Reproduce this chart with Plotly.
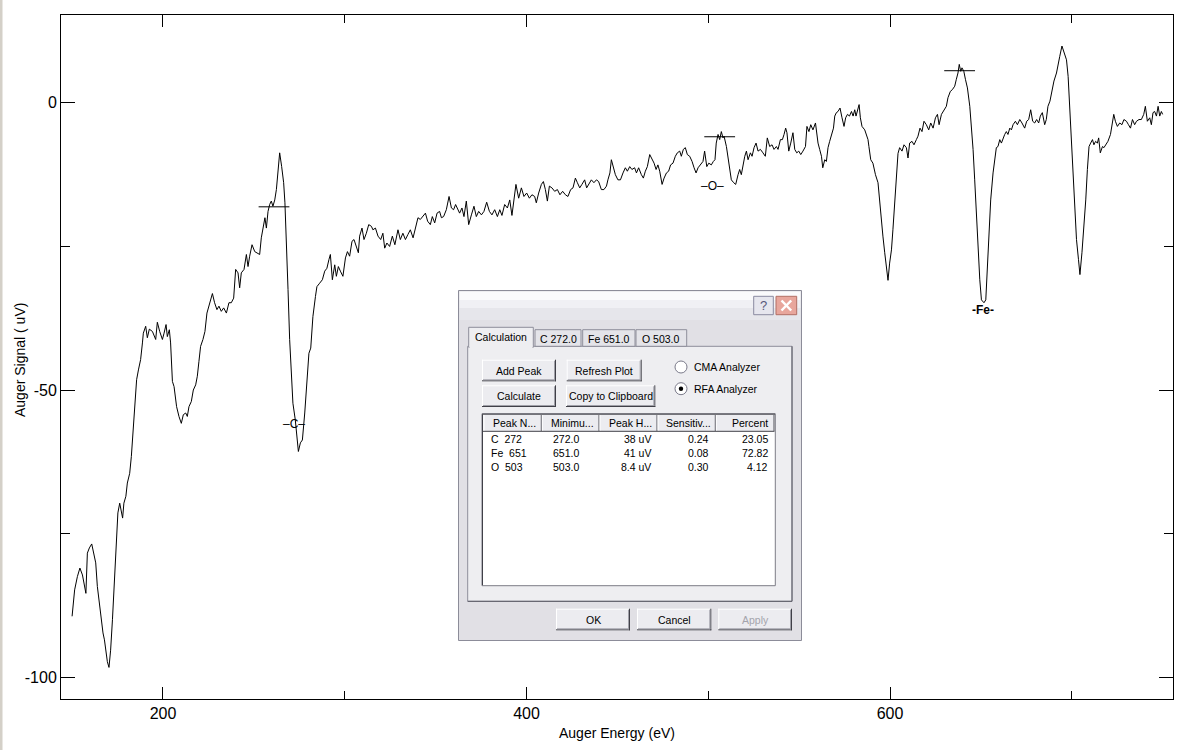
import plotly.graph_objects as go

# ---------------- data ----------------
energy = [
150.0,151.4,152.9,154.3,155.7,156.9,157.6,158.4,159.5,160.8,162.0,163.0,163.9,165.2,166.3,167.0,167.8,168.6,169.4,170.3,
171.2,172.2,173.0,173.6,174.4,175.2,176.2,177.1,177.8,178.5,179.6,180.4,181.7,182.6,183.2,184.0,184.8,185.5,186.5,187.7,
188.7,189.2,190.5,191.4,192.5,194.2,196.0,196.9,198.2,199.7,200.6,201.7,202.4,203.5,204.2,205.2,206.1,207.5,208.8,210.1,
211.2,212.5,213.4,214.3,215.6,216.7,218.0,218.9,219.8,220.7,222.0,223.1,
224.2,225.7,227.2,228.4,229.7,230.8,232.1,233.4,234.9,236.3,237.6,238.9,240.0,241.3,242.2,243.1,244.6,245.9,246.8,247.7,
249.0,250.5,251.7,253.2,254.1,255.0,256.1,256.9,257.8,258.7,259.6,260.5,261.5,262.4,263.1,264.2,265.3,266.4,267.1,267.9,
268.8,269.7,270.6,271.5,272.8,273.7,274.5,275.6,276.7,278.0,279.2,280.3,281.3,282.5,283.9,284.7,286.2,287.7,289.0,290.2,
291.3,292.1,293.2,294.5,295.4,296.5,297.6,299.0,300.4,301.5,302.7,304.0,305.1,306.4,307.5,308.2,309.5,310.6,311.9,313.2,
314.7,315.5,316.9,318.3,319.8,321.0,322.0,323.2,324.7,326.2,327.6,329.3,330.6,332.0,333.4,334.8,336.1,337.6,339.0,340.3,
341.6,343.1,344.4,345.6,347.1,348.2,349.5,350.8,352.2,353.2,354.4,355.9,357.4,358.7,359.9,361.0,362.3,
363.2,364.5,365.6,366.9,368.2,369.7,371.1,372.4,373.7,375.2,376.6,378.1,379.6,381.0,382.5,384.0,385.3,386.5,388.0,389.5,
390.8,392.0,393.1,394.2,395.7,397.2,398.6,400.1,401.6,403.0,404.5,405.4,406.7,408.2,409.3,410.4,411.5,412.6,414.0,415.5,
417.0,418.4,419.9,421.4,422.8,424.3,425.6,426.9,428.0,429.3,430.5,432.0,433.1,434.4,435.7,437.1,438.5,439.7,441.2,442.6,
444.0,444.8,445.9,446.7,447.8,448.9,450.3,451.7,453.1,454.4,455.5,456.8,458.0,459.5,460.5,461.7,463.2,464.3,465.4,466.5,
467.8,469.1,470.2,471.3,472.3,473.3,474.6,475.7,477.0,478.2,479.3,480.6,481.9,483.0,484.3,485.2,486.3,487.4,488.5,489.8,
491.1,492.2,493.3,494.4,495.8,497.1,498.0,499.2,500.3,501.7,502.8,503.7,504.4,505.4,506.3,507.2,508.1,
508.7,510.0,510.9,511.8,512.7,514.0,515.1,516.4,517.3,518.2,519.1,520.1,521.0,521.9,523.2,524.1,525.2,526.3,527.4,528.7,
530.1,531.4,532.5,533.8,535.1,536.2,537.5,538.4,539.7,540.8,541.7,542.6,543.3,544.3,545.4,546.6,547.6,548.7,549.8,550.9,
552.1,553.5,554.3,555.4,556.4,557.6,559.0,559.7,560.4,561.3,562.3,563.0,564.1,565.0,565.9,566.8,567.8,568.9,569.6,570.5,
571.4,572.5,573.6,574.7,575.6,576.6,577.7,578.8,579.7,580.6,581.3,582.1,583.0,583.7,584.6,586.1,587.0,587.9,588.4,589.4,
590.6,592.0,593.4,594.3,595.3,596.1,597.1,598.0,598.9,599.8,600.8,601.6,602.6,603.5,604.4,605.3,606.6,607.7,609.0,609.9,
610.8,612.1,613.2,614.5,615.4,616.5,617.6,618.7,620.0,621.3,622.4,623.7,625.0,626.1,627.0,628.3,629.7,631.0,631.9,633.2,
634.3,635.6,636.5,637.4,638.1,638.9,639.6,640.6,641.5,642.6,643.9,644.8,645.7,646.6,647.5,648.4,649.4,650.3,651.7,652.7,
653.6,654.5,655.4,656.7,657.6,658.5,659.4,660.4,661.3,662.2,663.1,664.0,664.9,665.9,666.8,667.7,669.0,670.1,671.4,672.6,
674.1,675.2,676.3,677.4,678.5,679.6,680.7,681.8,682.7,683.8,685.1,686.0,686.9,688.0,689.1,690.2,691.6,692.4,693.4,694.6,
695.6,697.1,698.0,698.9,699.8,700.7,701.6,702.6,703.7,704.5,705.6,706.7,707.7,708.6,709.5,710.4,711.4,712.2,713.1,714.1,
714.8,715.7,716.9,717.7,719.0,719.9,721.3,722.4,723.1,724.0,725.1,726.4,727.6,728.7,730.1,731.2,732.3,733.4,734.6,735.6,
737.0,738.3,739.6,740.5,741.6,742.9,743.8,744.7,745.6,746.6,747.5,748.4,749.3,750.0,
]
signal = [
-89.4,-84.8,-82.5,-81.0,-82.2,-83.9,-85.4,-78.4,-77.5,-76.8,-79.0,-80.1,-84.2,-87.7,-90.0,-92.3,-93.5,-95.3,-97.3,-98.3,
-95.3,-90.0,-85.4,-80.7,-75.5,-71.4,-69.7,-70.9,-72.3,-69.7,-68.5,-66.2,-64.5,-61.6,-58.7,-56.3,-51.7,-48.2,-46.5,-44.7,
-41.8,-40.1,-38.9,-40.9,-39.4,-39.8,-41.2,-38.2,-39.8,-41.2,-40.1,-38.6,-40.7,-39.5,-41.8,-48.5,-49.4,-52.9,-54.6,-55.8,
-54.3,-54.0,-54.6,-52.9,-52.0,-50.0,-49.1,-47.6,-45.0,-42.4,-41.2,-39.8,
-36.6,-35.1,-33.2,-34.8,-36.0,-35.4,-36.3,-35.7,-36.6,-34.8,-34.8,-34.0,-29.0,-29.6,-32.2,-29.6,-29.0,-26.4,-28.5,-26.7,
-24.7,-25.9,-26.1,-26.4,-23.5,-22.1,-20.0,-21.8,-18.9,-17.7,-17.1,-18.0,-16.9,-15.1,-12.2,-8.7,-11.1,-13.9,-17.4,-26.1,
-32.5,-41.2,-48.2,-52.3,-55.2,-58.7,-60.7,-59.2,-58.7,-54.0,-48.2,-43.6,-42.7,-37.2,-33.7,-32.0,-31.4,-30.8,-29.3,-28.8,
-27.3,-26.4,-30.8,-28.2,-30.2,-28.5,-29.3,-30.2,-27.0,-25.9,-26.7,-24.1,-23.8,-25.0,-26.1,-23.2,-21.8,-23.8,-22.7,-21.2,
-21.5,-22.1,-21.8,-23.2,-23.8,-22.7,-25.3,-24.4,-25.0,-23.2,-24.7,-22.1,-23.8,-22.7,-23.8,-22.9,-22.1,-23.5,-21.5,-20.0,
-20.3,-19.8,-19.2,-20.6,-21.2,-19.8,-20.9,-19.2,-18.9,-20.0,-19.8,-18.6,-16.3,-18.3,-18.6,-17.7,-18.6,
-19.2,-18.3,-19.8,-17.1,-21.2,-19.5,-18.0,-19.8,-18.9,-19.5,-18.9,-17.3,-18.9,-19.5,-18.6,-19.8,-18.6,-19.6,-17.7,-18.3,
-16.9,-19.6,-16.3,-14.2,-16.6,-14.8,-16.3,-15.7,-16.6,-16.0,-16.3,-17.4,-15.7,-14.2,-13.7,-15.1,-17.1,-14.5,-14.8,-15.4,
-15.1,-16.0,-15.4,-16.0,-16.3,-15.1,-14.8,-13.1,-13.9,-14.8,-14.2,-13.4,-14.8,-14.2,-13.4,-13.9,-13.4,-13.7,-15.1,-15.1,
-14.5,-13.4,-12.2,-9.9,-11.3,-12.5,-13.4,-13.4,-12.2,-11.3,-11.9,-11.1,-11.6,-11.3,-12.2,-11.3,-12.5,-13.1,-11.9,-11.1,
-9.0,-9.9,-10.5,-11.6,-10.8,-11.9,-14.2,-13.1,-12.2,-11.9,-10.8,-10.5,-9.3,-8.7,-8.4,-9.3,-8.1,-7.8,-9.0,-9.3,
-10.2,-11.3,-12.2,-11.3,-10.8,-10.2,-8.4,-11.1,-10.5,-10.8,-10.2,-9.9,-7.0,-5.5,-6.4,-5.0,-6.1,
-5.8,-7.6,-9.3,-11.6,-13.4,-13.9,-14.2,-12.5,-11.6,-12.5,-10.8,-9.3,-8.4,-9.9,-8.7,-9.3,-7.8,-7.0,-8.4,-8.1,
-8.7,-9.3,-6.1,-7.6,-7.3,-8.1,-7.6,-8.1,-6.4,-6.4,-5.5,-4.4,-5.2,-8.4,-7.0,-5.2,-8.1,-8.7,-8.4,-9.0,
-8.4,-7.6,-4.1,-5.0,-3.8,-4.7,-3.5,-5.2,-7.0,-8.1,-9.3,-11.3,-9.9,-10.2,-7.8,-6.7,-5.5,-4.4,-2.3,-1.7,
-1.5,-0.9,-2.6,-4.1,-2.6,-2.0,-2.3,-1.5,-2.3,-1.2,-2.3,-1.5,-0.3,-2.6,-4.1,-4.7,-5.5,-6.4,-7.6,-9.9,
-10.5,-12.5,-13.9,-17.4,-20.9,-23.2,-26.1,-28.5,-30.9,-27.9,-25.6,-22.1,-17.4,-12.2,-8.8,-7.8,-8.4,-7.3,-7.8,-9.6,
-7.0,-6.7,-7.3,-6.4,-5.8,-4.4,-5.0,-3.2,-3.8,-4.7,-3.5,-4.4,-2.6,-2.0,-3.8,-2.0,-1.2,-0.6,0.9,2.0,
2.3,2.9,4.1,5.2,6.7,5.5,6.1,5.5,4.1,2.6,-0.6,-4.1,-8.1,-13.4,-19.2,-25.0,-30.8,-34.3,-34.8,-34.3,
-29.0,-22.7,-16.9,-12.2,-9.6,-7.8,-7.6,-6.4,-7.0,-6.1,-5.5,-5.0,-5.5,-4.4,-4.7,-3.8,-3.2,-3.8,-2.9,-3.5,
-4.4,-3.2,-2.9,-1.2,-3.2,-3.5,-2.9,-3.5,-2.3,-1.7,-3.8,-2.9,-0.6,0.3,2.3,3.8,5.2,6.7,8.1,9.9,
9.0,7.5,4.6,-0.6,-6.4,-12.2,-18.0,-23.8,-27.3,-29.9,-26.1,-21.5,-16.9,-11.6,-7.6,-7.0,-6.4,-7.3,-6.7,-7.0,
-6.1,-8.7,-7.6,-7.8,-7.0,-6.7,-5.5,-3.5,-2.0,-3.2,-4.1,-3.5,-3.8,-2.9,-3.2,-3.8,-4.4,-2.9,-3.8,-3.2,
-2.9,-2.9,-2.0,-0.6,-3.2,-2.6,-3.8,-1.7,-1.5,-2.3,-0.6,-2.3,-1.5,-2.0,
]

peak_labels = ["\u2013C\u2013", "\u2013O\u2013", "<b>-Fe-</b>"]
peak_label_energy = [271.9, 502.6, 651.0]
peak_label_signal = [-56.0, -14.5, -36.0]
peak_max_energy = [261.1, 506.3, 638.3]
peak_max_signal = [-18.1, -5.9, 5.6]

x_tickvals = [200, 400, 600]
x_ticktext = ["200", "400", "600"]
y_tickvals = [0, -50, -100]
y_ticktext = ["0", "-50", "-100"]
x_title = "Auger Energy (eV)"
y_title = "Auger Signal ( uV)"

tab_labels = ["Calculation", "C 272.0", "Fe 651.0", "O 503.0"]
table_headers = ["Peak N...", "Minimu...", "Peak H...", "Sensitiv...", "Percent"]
table_peak = ["C  272", "Fe  651", "O  503"]
table_min = ["272.0", "651.0", "503.0"]
table_height = ["38 uV", "41 uV", "8.4 uV"]
table_sens = ["0.24", "0.08", "0.30"]
table_pct = ["23.05", "72.82", "4.12"]

# ---------------- layout helpers ----------------
W, H = 1188, 750
L, R, T, B = 61, 1173, 15, 699
FONT = "Liberation Sans, Arial, sans-serif"


def px(x):
    return (x - L) / (R - L)


def py(y):
    return (B - y) / (B - T)


shapes = []
annotations = []


def rect(x0, y0, x1, y1, fill, line=None, lw=1):
    shapes.append(dict(type="rect", xref="paper", yref="paper", x0=px(x0), x1=px(x1),
                       y0=py(y1), y1=py(y0), fillcolor=fill, layer="above",
                       line=dict(color=line if line else fill, width=lw if line else 0)))


def seg(x0, y0, x1, y1, color, lw=1):
    shapes.append(dict(type="line", xref="paper", yref="paper", x0=px(x0), x1=px(x1),
                       y0=py(y0), y1=py(y1), layer="above", line=dict(color=color, width=lw)))


def circ(cx, cy, r, fill, line=None):
    shapes.append(dict(type="circle", xref="paper", yref="paper", x0=px(cx - r), x1=px(cx + r),
                       y0=py(cy + r), y1=py(cy - r), fillcolor=fill, layer="above",
                       line=dict(color=line if line else fill, width=1 if line else 0)))


def text(x, y, s, anchor="left", size=10.5, color="black", family=FONT, angle=0):
    annotations.append(dict(xref="paper", yref="paper", x=px(x), y=py(y), text=s, showarrow=False,
                            xanchor=anchor, yanchor="middle", textangle=angle,
                            font=dict(family=family, size=size, color=color)))


def button(x0, y0, x1, y1, label, color="black"):
    rect(x0, y0, x1, y1, "#ececf0")
    seg(x0, y0 + 0.5, x1, y0 + 0.5, "#ffffff")
    seg(x0 + 0.5, y0, x0 + 0.5, y1, "#ffffff")
    seg(x0, y1 - 0.5, x1, y1 - 0.5, "#404048")
    seg(x1 - 0.5, y0, x1 - 0.5, y1, "#404048")
    seg(x0 + 1, y1 - 1.5, x1 - 1, y1 - 1.5, "#a0a0a8")
    seg(x1 - 1.5, y0 + 1, x1 - 1.5, y1 - 1, "#a0a0a8")
    text((x0 + x1) / 2, (y0 + y1) / 2, label, anchor="center", color=color)


# left grey window strip
rect(-1, -1, 2.5, 751, "#d4d0c8")

# ---------------- dialog ----------------
rect(458.5, 290.5, 801.5, 640.5, "#e1e0e5", "#8c8c99")
rect(459.5, 291.5, 800.5, 300, "#fafafc")
rect(459.5, 300, 800.5, 308, "#f0f0f4")
rect(459.5, 308, 800.5, 320, "#e6e6eb")
# help and close buttons
rect(753.7, 296.3, 773.3, 314.7, "#e6e6ee", "#8a8aa0")
text(763.5, 305.5, "?", anchor="center", size=13, color="#58587a")
rect(776, 296.3, 796.7, 314.7, "#e8a69c", "#b26e64")
seg(781.5, 300.5, 791.2, 310.5, "#ffffff", 2.5)
seg(791.2, 300.5, 781.5, 310.5, "#ffffff", 2.5)

# tab panel
rect(467.7, 346.3, 792, 601.3, "#eeeef1", "#8e8e9a")
seg(467.7, 601.3, 792, 601.3, "#5a5a64")
seg(792, 346.3, 792, 601.3, "#5a5a64")
# inactive tabs
for (x0, x1), lab in zip([(535, 581), (582.7, 635), (636, 686.7)], tab_labels[1:]):
    rect(x0, 329.7, x1, 346.3, "#e4e4e9", "#8e8e9a")
    text((x0 + x1) / 2, 338.5, lab, anchor="center")
# active tab
rect(468.7, 327.3, 533.3, 347.3, "#eeeef1", "#8e8e9a")
rect(469.5, 345.5, 532.5, 348.2, "#eeeef1")
text(501, 336.5, tab_labels[0], anchor="center")

# buttons
button(482, 359.7, 556, 381.3, "Add Peak")
button(566.7, 359.7, 641.7, 381.3, "Refresh Plot")
button(482, 385.3, 556, 407, "Calculate")
button(566, 385.3, 655.3, 407, "Copy to Clipboard")
button(556, 608.7, 630, 630.3, "OK")
button(637, 608.7, 711.3, 630.3, "Cancel")
button(718.3, 608.7, 792, 630.3, "Apply", color="#a4a4ac")

# radio buttons
circ(681, 367, 6, "#ffffff", "#7a7a8a")
circ(681, 388.7, 6, "#ffffff", "#7a7a8a")
circ(681, 388.7, 2.2, "#000000")
text(692, 367, "CMA Analyzer")
text(692, 388.7, "RFA Analyzer")

# list view
rect(482, 413.7, 775.3, 585.7, "#ffffff", "#7c7c86")
seg(482.5, 414.2, 775, 414.2, "#404048")
seg(482.5, 414.2, 482.5, 585.2, "#404048")
rect(483.2, 415, 774.5, 431, "#ececf0")
seg(483, 431.3, 774.5, 431.3, "#404048")
for xs in [541.3, 599, 657, 715.3, 774]:
    seg(xs, 415, xs, 431, "#505058")
for xs in [484, 542.3, 600, 658, 716.3]:
    seg(xs, 415, xs, 430.5, "#ffffff")
hx = [490.5, 548.5, 606.5, 664.2]
for x, h in zip(hx, table_headers[:4]):
    text(x, 423, h)
text(769.5, 423, table_headers[4], anchor="right")
for i, ry in enumerate([439, 453, 467]):
    text(488.5, ry, table_peak[i])
    text(551, ry, table_min[i])
    text(653, ry, table_height[i], anchor="right")
    text(711, ry, table_sens[i], anchor="right")
    text(769.5, ry, table_pct[i], anchor="right")

# axis titles
text(617, 733, x_title, anchor="center", size=14)
text(20, 360, y_title, anchor="center", size=14, angle=-90)

# peak labels (data coordinates)
for lab, e, s in zip(peak_labels, peak_label_energy, peak_label_signal):
    annotations.append(dict(xref="x", yref="y", x=e, y=s, text=lab, showarrow=False,
                            xanchor="center", yanchor="middle",
                            font=dict(family=FONT, size=12, color="black")))

# ---------------- figure ----------------
fig = go.Figure()
fig.add_trace(go.Scatter(x=energy, y=signal, mode="lines",
                         line=dict(color="black", width=1), showlegend=False, hoverinfo="skip"))
fig.add_trace(go.Scatter(x=peak_max_energy, y=peak_max_signal, mode="markers",
                         marker=dict(symbol="line-ew", size=22, color="black",
                                     line=dict(color="black", width=1)),
                         showlegend=False, hoverinfo="skip"))

axis_common = dict(showline=True, linecolor="black", linewidth=1, mirror="ticks",
                   ticks="inside", tickcolor="black", tickwidth=1, showgrid=False,
                   zeroline=False, tickfont=dict(family=FONT, size=16, color="black"))

fig.update_layout(
    width=W, height=H,
    margin=dict(l=L, r=W - R, t=T, b=H - B),
    paper_bgcolor="white", plot_bgcolor="white",
    showlegend=False,
    xaxis=dict(range=[143.9, 755.7], tickvals=x_tickvals, ticktext=x_ticktext, ticklen=12,
               minor=dict(dtick=100, tick0=0, ticks="inside", ticklen=8, tickcolor="black",
                          tickwidth=1, showgrid=False),
               **axis_common),
    yaxis=dict(range=[-103.8, 15.3], tickvals=y_tickvals, ticktext=y_ticktext, ticklen=14,
               minor=dict(dtick=25, tick0=0, ticks="inside", ticklen=9, tickcolor="black",
                          tickwidth=1, showgrid=False),
               **axis_common),
    shapes=shapes,
    annotations=annotations,
)

fig.write_html("out.html", config={"displayModeBar": False},
               post_script="document.body.style.margin='0px';document.body.style.overflow='hidden';")
